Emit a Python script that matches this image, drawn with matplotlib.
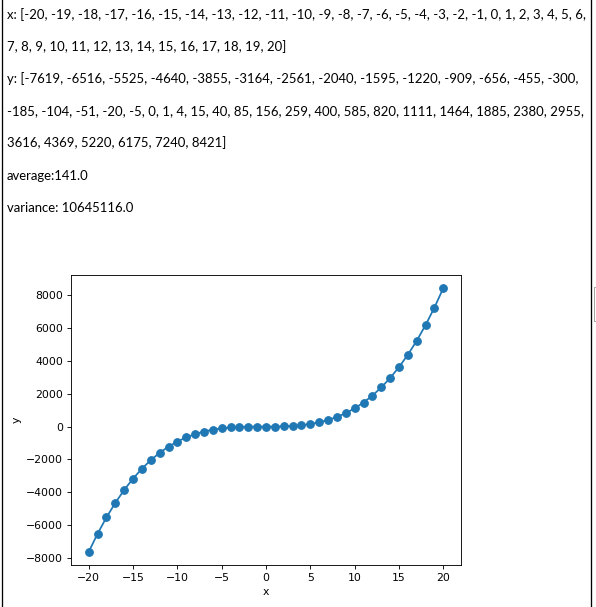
import matplotlib
matplotlib.use("Agg")
from matplotlib import pyplot as plt
from matplotlib.lines import Line2D

# ---- data ----
x_vals = list(range(-20, 21))
y_vals = [-7619, -6516, -5525, -4640, -3855, -3164, -2561, -2040, -1595, -1220,
          -909, -656, -455, -300, -185, -104, -51, -20, -5, 0, 1, 4, 15, 40, 85,
          156, 259, 400, 585, 820, 1111, 1464, 1885, 2380, 2955, 3616, 4369,
          5220, 6175, 7240, 8421]
average_txt = "141.0"
variance_txt = "10645116.0"

W, H = 596, 607
DPI = 78.6  # chart in the screenshot is a default figure shown at ~78.6 dpi

fig = plt.figure(figsize=((W + 0.01) / DPI, (H + 0.01) / DPI), dpi=DPI)
TXT_FONT = ['Lato', 'DejaVu Sans']
TXT_SIZE = 12.0


def px(x, y):
    return x / W, 1 - y / H


def fmt(vals):
    return ", ".join(str(v) for v in vals)


# page text, wrapped as in the screenshot
lines = [
    ("x: [" + fmt(x_vals[:27]) + ",", 15),
    (fmt(x_vals[27:]) + "]", 47),
    ("y: [" + fmt(y_vals[:14]) + ",", 79),
    (fmt(y_vals[14:35]) + ",", 111),
    (fmt(y_vals[35:]) + "]", 143),
    ("average:" + average_txt, 176),
    ("variance: " + variance_txt, 208),
]
for s, yy in lines:
    fig.text(*px(7, yy), s, family=TXT_FONT, fontsize=TXT_SIZE,
             ha='left', va='center', color='black')

# page borders
fig.add_artist(Line2D([2 / W, 2 / W], [0, 1], transform=fig.transFigure,
                      color='black', linewidth=1.2))
fig.add_artist(Line2D([591 / W, 591 / W], [0, 1], transform=fig.transFigure,
                      color='black', linewidth=1.2))
fig.add_artist(Line2D([595 / W, 594 / W, 594 / W, 595 / W],
                      [1 - 287 / H, 1 - 287 / H, 1 - 321 / H, 1 - 321 / H],
                      transform=fig.transFigure, color='#999999', linewidth=0.8))

# chart
l, r, t, b = 71, 461, 275, 565
ax = fig.add_axes([l / W, 1 - b / H, (r - l) / W, (b - t) / H])
ax.plot(x_vals, y_vals, marker='o', markersize=7, linewidth=1.6)
ax.set_xlabel('x')
ax.set_ylabel('y')

fig.savefig('out.png', dpi=DPI)
